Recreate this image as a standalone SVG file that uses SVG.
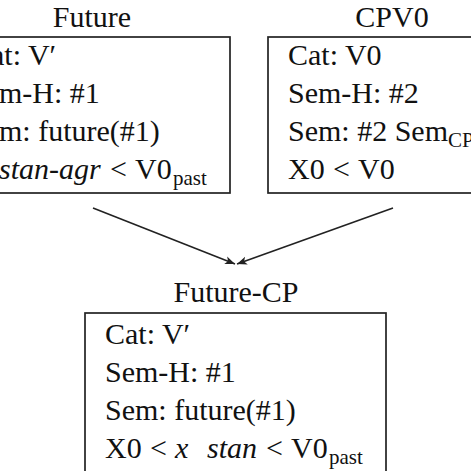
<svg xmlns="http://www.w3.org/2000/svg" width="471" height="471" viewBox="0 0 471 471">
<style>
.t{font-family:"Liberation Serif","Times New Roman",serif;font-size:30px;fill:#111}
.i{font-style:italic}
.s{font-size:21px}
.box{fill:#fff;stroke:#222;stroke-width:1.7}
.ln{stroke:#222;stroke-width:1.6;fill:none}
</style>
<defs>
<marker id="ah" viewBox="0 0 10 10" refX="10" refY="5" markerWidth="10" markerHeight="10" markerUnits="userSpaceOnUse" orient="auto">
<path d="M0,1 L10,5 L0,9 L2.5,5 z" fill="#222"/>
</marker>
</defs>
<rect width="471" height="471" fill="#fff"/>
<g id="connectors">
<line class="ln" x1="93" y1="208" x2="235" y2="264" marker-end="url(#ah)"/>
<line class="ln" x1="393" y1="208" x2="237" y2="264" marker-end="url(#ah)"/>
</g>
<g id="future">
<text class="t" x="92" y="27" text-anchor="middle">Future</text>
<rect class="box" x="-46" y="37" width="276" height="156"/>
<text class="t" x="-29" y="65">Cat: V′</text>
<text class="t" x="-31" y="103">Sem-H: #1</text>
<text class="t" x="-31" y="141">Sem: future(#1)</text>
<text class="t" y="179"><tspan class="i" x="-1">stan-agr</tspan><tspan x="110">&lt;</tspan><tspan x="135">V0</tspan><tspan class="s" x="173" dy="6">past</tspan></text>
</g>
<g id="cpv0">
<text class="t" x="392" y="27" text-anchor="middle">CPV0</text>
<rect class="box" x="268" y="37" width="250" height="156"/>
<text class="t" x="288" y="65">Cat: V0</text>
<text class="t" x="288" y="103">Sem-H: #2</text>
<text class="t" x="288" y="141">Sem: #2 Sem<tspan class="s" dy="6">CP</tspan></text>
<text class="t" y="179"><tspan x="288">X0</tspan><tspan x="333">&lt;</tspan><tspan x="358">V0</tspan></text>
</g>
<g id="future-cp">
<text class="t" x="236" y="302" text-anchor="middle">Future-CP</text>
<rect class="box" x="85" y="313" width="301" height="170"/>
<text class="t" x="105" y="344">Cat: V′</text>
<text class="t" x="105" y="382">Sem-H: #1</text>
<text class="t" x="105" y="420">Sem: future(#1)</text>
<text class="t" y="458"><tspan x="105">X0</tspan><tspan x="150">&lt;</tspan><tspan class="i" x="175">x</tspan><tspan class="i" x="207">stan</tspan><tspan x="266">&lt;</tspan><tspan x="291">V0</tspan><tspan class="s" x="329" dy="6">past</tspan></text>
</g>
</svg>
